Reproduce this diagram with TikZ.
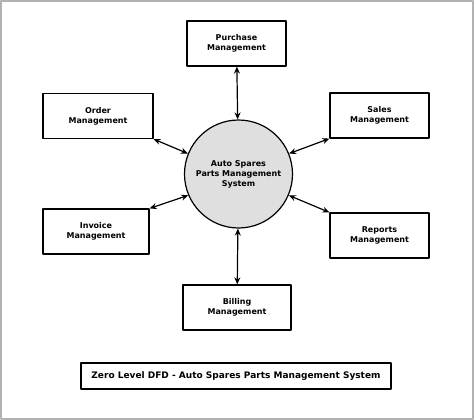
\documentclass[tikz,border=0pt]{standalone}
\usepackage{fontspec}
\setmainfont{DejaVu Sans}
\usetikzlibrary{arrows.meta}
\begin{document}
\begin{tikzpicture}[>={Stealth[length=7pt,width=6pt]}, line join=round, x=1pt, y=-1pt,
    font=\bfseries\fontsize{8}{10}\selectfont]
    \tikzset{
        proc/.style={draw, line width=1.2pt, minimum height=45pt, align=center, inner sep=0pt},
        flow/.style={<->, line width=1.2pt}
    }
    % cadre de l'image
    \useasboundingbox (0,0) rectangle (474,420);
    \draw[gray!60, line width=2pt] (1,1) rectangle (473,419);
    % processus central
    \node[circle, draw, line width=1.2pt, fill=gray!25, minimum size=108pt, align=center, inner sep=0pt]
        (sys) at (238.5,174) {Auto Spares\\Parts Management\\System};
    % entites externes
    \node[proc, minimum width=99pt] (purchase) at (236.5,43.5) {Purchase\\Management};
    \node[proc, minimum width=110pt] (order) at (98,116) {Order\\Management};
    \node[proc, minimum width=99pt] (sales) at (379.5,115.5) {Sales\\Management};
    \node[proc, minimum width=106pt] (invoice) at (96,231.5) {Invoice\\Management};
    \node[proc, minimum width=99pt] (reports) at (379.5,235.5) {Reports\\Management};
    \node[proc, minimum width=108pt] (billing) at (237,307.5) {Billing\\Management};
    % flux
    \draw[flow] (purchase) -- (sys);
    \draw[flow] (billing) -- (sys);
    \draw[flow] (order.south east) -- (sys.158);
    \draw[flow] (sales.south west) -- (sys.22);
    \draw[flow] (invoice.north east) -- (sys.203);
    \draw[flow] (reports.north west) -- (sys.337);
    % titre
    \node[draw, line width=1.2pt, minimum width=310pt, minimum height=26pt, inner sep=0pt,
        font=\bfseries\fontsize{9}{11}\selectfont] (title) at (236,376)
        {Zero Level DFD - Auto Spares Parts Management System};
\end{tikzpicture}
\end{document}
